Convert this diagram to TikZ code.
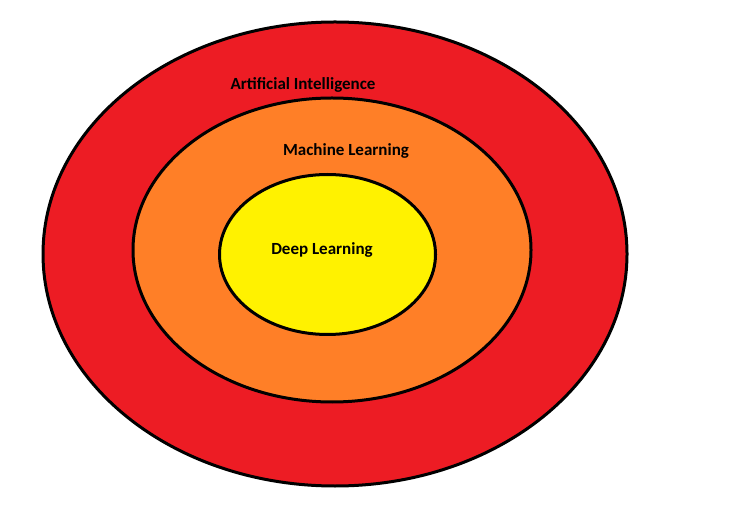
\documentclass[tikz,border=0pt]{standalone}
\usepackage{fontspec}
\setmainfont{Carlito}
\definecolor{ai}{HTML}{ED1C24}
\definecolor{ml}{HTML}{FF7F27}
\definecolor{dl}{HTML}{FFF200}
\begin{document}
\begin{tikzpicture}[x=1pt,y=1pt,
  ring/.style={draw=black,line width=3pt},
  lbl/.style={font=\fontsize{17}{20}\selectfont\bfseries,text=black}]
\useasboundingbox (0,0) rectangle (743,511);
\fill[white] (0,0) rectangle (743,511);
\draw[ring,fill=ai] (335,257) ellipse [x radius=292,y radius=232];
\draw[ring,fill=ml] (332,261) ellipse [x radius=199,y radius=152];
\draw[ring,fill=dl] (327.5,256.5) ellipse [x radius=108,y radius=80];
\node[lbl] (a) at (303,426) {Artificial Intelligence};
\node[lbl] (m) at (346,360) {Machine Learning};
\node[lbl] (d) at (322,261) {Deep Learning};
\end{tikzpicture}
\end{document}
